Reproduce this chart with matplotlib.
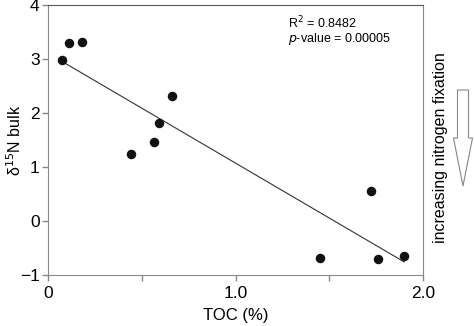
import numpy as np
import matplotlib
matplotlib.use("Agg")
import matplotlib.pyplot as plt
from matplotlib.patches import FancyArrow

plt.rcParams['font.family'] = ['Liberation Sans', 'DejaVu Sans']

# TOC (%) vs d15N bulk
toc = [0.075, 0.11, 0.18, 0.44, 0.565, 0.59, 0.66, 1.45, 1.72, 1.76, 1.90]
d15n = [2.98, 3.29, 3.31, 1.25, 1.46, 1.81, 2.31, -0.68, 0.56, -0.70, -0.64]

xticks = [0, 0.5, 1.0, 1.5, 2.0]
xticklabels = ['0', '', '1.0', '', '2.0']
yticks = [-1, 0, 1, 2, 3, 4]

fig = plt.figure(figsize=(4.74, 3.26), dpi=100)
ax = fig.add_axes([48 / 474, 1 - 275 / 326, 375 / 474, 270 / 326])

ax.scatter(toc, d15n, s=34, color='#111111', zorder=3)

# least squares line over the data range
slope, icpt = np.polyfit(toc, d15n, 1)
xs = np.array([min(toc), max(toc)])
ax.plot(xs, slope * xs + icpt, color='#333333', lw=0.8)

ax.set_xlim(0, 2.0)
ax.set_ylim(-1, 4)
ax.set_xticks(xticks)
ax.set_xticklabels(xticklabels)
ax.set_yticks(yticks)
ax.tick_params(labelsize=12.5, color='#888888', length=4, width=1, pad=2)
ax.tick_params(axis='x', pad=4)
for s in ax.spines.values():
    s.set_color('#888888')
ax.spines['top'].set_color('#555555')

ax.set_xlabel('TOC (%)', fontsize=12, labelpad=5)
ax.set_ylabel('δ$^{15}$N bulk', fontsize=11.5)
ax.yaxis.set_label_coords(-0.065, 0.5)

ax.text(0.64, 0.965, r'R$^{2}$ = 0.8482', transform=ax.transAxes,
        fontsize=9, va='top')
ax.text(0.64, 0.905, r'$p$-value = 0.00005', transform=ax.transAxes,
        fontsize=9, va='top')

fig.text(441 / 474, 1 - 148 / 326, 'increasing nitrogen fixation',
         rotation=90, fontsize=11.5, ha='center', va='center')

arrow = FancyArrow(463 / 474, 1 - 90 / 326, 0, -96 / 326, width=11 / 474,
                   head_width=19 / 474, head_length=48 / 326,
                   length_includes_head=True, transform=fig.transFigure,
                   facecolor='white', edgecolor='#888888', lw=0.8)
fig.patches.append(arrow)

fig.savefig('out.png', dpi=100)
